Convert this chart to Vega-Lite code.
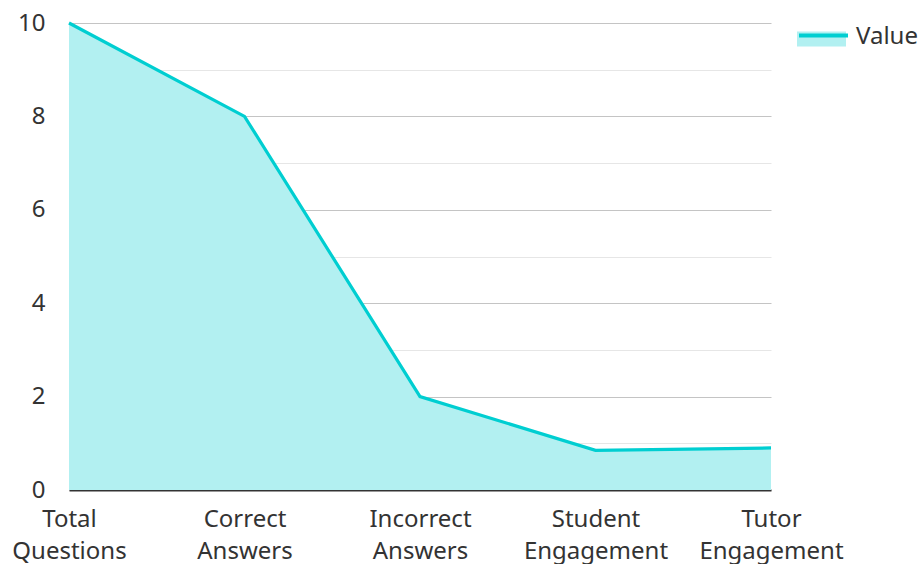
{
  "$schema": "https://vega.github.io/schema/vega-lite/v6.json",
  "width": 702,
  "height": 467,
  "autosize": {"type": "none"},
  "padding": {"left": 69, "top": 23, "right": 150, "bottom": 74},
  "background": "white",
  "config": {
    "view": {"stroke": null},
    "font": "Noto Sans"
  },
  "data": {
    "values": [
      {"category": "Total Questions", "value": 10, "series": "Value"},
      {"category": "Correct Answers", "value": 8, "series": "Value"},
      {"category": "Incorrect Answers", "value": 2, "series": "Value"},
      {"category": "Student Engagement", "value": 0.85, "series": "Value"},
      {"category": "Tutor Engagement", "value": 0.9, "series": "Value"}
    ]
  },
  "encoding": {
    "x": {
      "field": "category",
      "type": "nominal",
      "sort": null,
      "scale": {"type": "point", "padding": 0},
      "axis": {
        "title": null,
        "labelAngle": 0,
        "ticks": false,
        "domainColor": "#333333",
        "domainWidth": 2,
        "labelPadding": 17,
        "labelBaseline": "top",
        "labelLineHeight": 32,
        "labelFontSize": 24,
        "labelFont": "Noto Sans",
        "labelColor": "#333333",
        "labelExpr": "split(datum.label, ' ')",
        "grid": false
      }
    },
    "y": {
      "field": "value",
      "type": "quantitative",
      "scale": {"domain": [0, 10], "nice": false},
      "axis": {
        "title": null,
        "values": [0, 1, 2, 3, 4, 5, 6, 7, 8, 9, 10],
        "labelExpr": "datum.value % 2 === 0 ? datum.label : ''",
        "ticks": false,
        "domain": false,
        "labelPadding": 24,
        "labelFontSize": 24,
        "labelFont": "Noto Sans",
        "labelColor": "#333333",
        "grid": true,
        "gridColor": {"condition": {"test": "datum.value % 2 === 0", "value": "#c4c4c4"}, "value": "#e6e6e6"},
        "gridWidth": 1
      }
    }
  },
  "layer": [
    {
      "mark": {"type": "area", "opacity": 1},
      "encoding": {
        "fill": {
          "field": "series",
          "type": "nominal",
          "scale": {"range": ["#b2f0f1"]},
          "legend": {
            "title": null,
            "orient": "none",
            "legendX": 728,
            "legendY": -11,
            "labelFontSize": 24,
            "labelColor": "#333333",
            "labelFont": "Noto Sans",
            "symbolType": "M-1,-0.2 L1,-0.2 L1,0.41 L-1,0.41 Z",
            "symbolSize": 2401,
            "symbolStrokeWidth": 0,
            "symbolOpacity": 1,
            "labelOffset": 10
          }
        }
      }
    },
    {
      "mark": {"type": "line", "strokeWidth": 3.2},
      "encoding": {
        "stroke": {
          "field": "series",
          "type": "nominal",
          "scale": {"range": ["#00CED1"]},
          "legend": {
            "title": null,
            "orient": "none",
            "legendX": 728,
            "legendY": -11,
            "labelFontSize": 24,
            "labelFont": "Noto Sans",
            "labelExpr": "''",
            "symbolType": "M-1,-0.12 L1,-0.12",
            "symbolSize": 2401,
            "symbolStrokeWidth": 4,
            "symbolOpacity": 1,
            "labelOffset": 10
          }
        }
      }
    }
  ]
}
